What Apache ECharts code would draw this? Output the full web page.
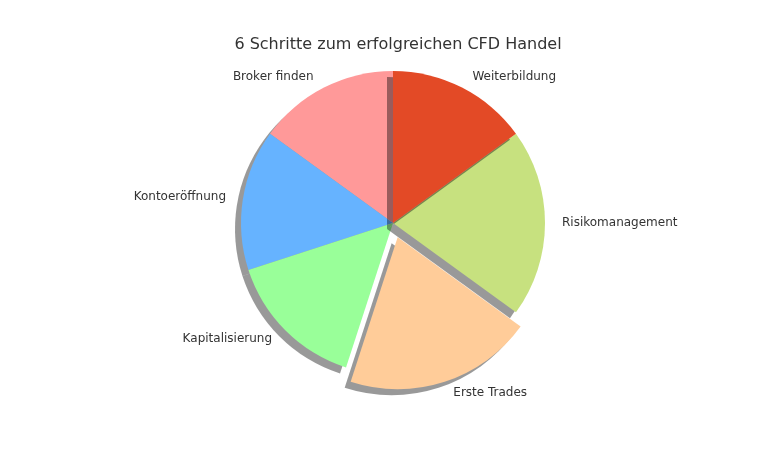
<!DOCTYPE html>
<html>
<head>
<meta charset="utf-8">
<script src="https://cdn.jsdelivr.net/npm/echarts@6/dist/echarts.min.js"></script>
<style>html,body{margin:0;padding:0;background:#fff}#chart{width:768px;height:460px}</style>
</head>
<body>
<div id="chart"></div>
<script>
const labels = ['Broker finden', 'Kontoeröffnung', 'Kapitalisierung', 'Erste Trades', 'Risikomanagement', 'Weiterbildung'];
const values = [15, 15, 15, 20, 20, 15];
const colors = ['#ff9999', '#66b3ff', '#99ff99', '#ffcc99', '#c7e17f', '#e34a26'];
const exploded = [false, false, false, true, false, false];

var myChart = echarts.init(document.getElementById('chart'));
const option = {
  animation: false,
  title: {
    text: '6 Schritte zum erfolgreichen CFD Handel',
    left: 393,
    textAlign: 'center',
    top: 32,
    textStyle: { fontFamily: 'DejaVu Sans', fontSize: 16, fontWeight: 'normal', color: '#333' }
  },
  series: [{
    type: 'pie',
    center: [393, 223],
    radius: 152,
    startAngle: 90,
    clockwise: false,
    selectedMode: 'multiple',
    selectedOffset: 15,
    data: labels.map((name, i) => ({
      name: name,
      value: values[i],
      selected: exploded[i],
      itemStyle: { color: colors[i] }
    })),
    itemStyle: {
      shadowColor: 'rgba(0,0,0,0.4)',
      shadowBlur: 0,
      shadowOffsetX: -6,
      shadowOffsetY: 6
    },
    label: {
      show: true,
      position: 'outside',
      fontFamily: 'DejaVu Sans',
      fontSize: 12,
      color: '#333'
    },
    labelLine: { show: false, length: 12, length2: 0 },
    emphasis: { disabled: true }
  }]
};
myChart.setOption(option);
</script>
</body>
</html>
